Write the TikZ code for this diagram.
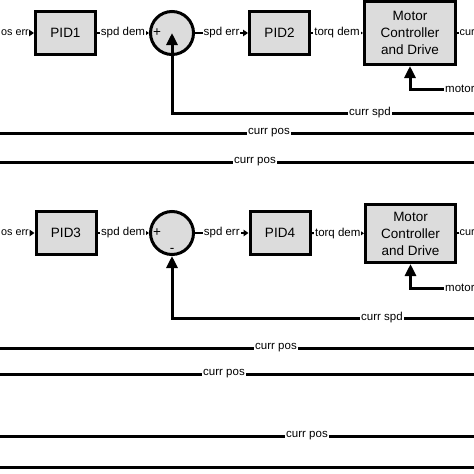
\documentclass[tikz,border=0pt]{standalone}
\usepackage{fontspec}
\setmainfont{Liberation Sans}
\usetikzlibrary{arrows.meta}
\definecolor{blockgray}{RGB}{220,220,220}
\begin{document}
\begin{tikzpicture}[x=1pt,y=-1pt,
  block/.style={draw, line width=3pt, fill=blockgray, inner sep=0pt, align=center,
                font=\fontsize{13.5}{17}\selectfont},
  pidbox/.style={block, minimum width=60pt, minimum height=43pt},
  sumnode/.style={draw, circle, line width=3pt, fill=blockgray, inner sep=0pt, minimum size=43pt},
  sign/.style={inner sep=0pt, font=\fontsize{13.5}{15}\selectfont},
  lbl/.style={fill=white, inner xsep=1pt, inner ysep=0pt, font=\fontsize{11.5}{13}\selectfont},
  edgelbl/.style={fill=white, inner xsep=0.5pt, inner ysep=0pt, font=\fontsize{10.8}{13}\selectfont},
  sig/.style={line width=1.8pt, -{Triangle[length=5pt,width=6.5pt]}},
  fb/.style={line width=3pt},
  fbarrow/.style={line width=3pt, -{Triangle[length=12pt,width=11pt]}},
  bus/.style={line width=3pt}]
\useasboundingbox (0,0) rectangle (474,474);
\clip (0,0) rectangle (474,474);

% ---------- top loop ----------
\node[pidbox] (PID1) at (65.5,33) {PID1};
\node[sumnode] (sum1) at (172,33) {};
\node[sign] (plus1) at (157,33) {+};
\node[pidbox] (PID2) at (279.5,33) {PID2};
\node[block, minimum width=91pt, minimum height=63pt] (MC1) at (410,33) {Motor\\Controller\\and Drive};

\node[edgelbl, anchor=east] (pe1) at (29.5,33) {os err};
\draw[sig] (pe1) -- (PID1);
\draw[sig] (PID1) -- node[lbl] {spd dem} (sum1);
\draw[sig] (sum1) -- node[lbl] {spd err} (PID2);
\draw[sig] (PID2) -- node[lbl] {torq dem} (MC1);
\node[edgelbl, anchor=west] (cu1) at (459,33) {cur};
\draw[line width=1.8pt] (MC1) -- (cu1);

\node[lbl, anchor=west] (mo1) at (444,89) {motor};
\draw[fbarrow] (mo1.west) -| (MC1.south);

\coordinate (fbr1) at (480,113);
\node[lbl] (cs1) at (370,113) {curr spd};
\draw[fb] (fbr1) -- (cs1);
\draw[fbarrow] (cs1) -| (sum1.center);

\coordinate (la1) at (-5,133);
\coordinate (ra1) at (480,133);
\node[lbl] (cp1) at (269,133) {curr pos};
\draw[bus] (la1) -- (cp1) -- (ra1);

\coordinate (la2) at (-5,162);
\coordinate (ra2) at (480,162);
\node[lbl] (cp2) at (255,162) {curr pos};
\draw[bus] (la2) -- (cp2) -- (ra2);

% ---------- bottom loop ----------
\node[pidbox] (PID3) at (66,233) {PID3};
\node[sumnode] (sum2) at (172,233) {};
\node[sign] (plus2) at (157,233) {+};
\node[sign] (minus2) at (172,250) {-};
\node[pidbox] (PID4) at (280,233) {PID4};
\node[block, minimum width=90pt, minimum height=58pt] (MC2) at (410.5,233.5) {Motor\\Controller\\and Drive};

\node[edgelbl, anchor=east] (pe2) at (29.5,233) {os err};
\draw[sig] (pe2) -- (PID3);
\draw[sig] (PID3) -- node[lbl] {spd dem} (sum2);
\draw[sig] (sum2) -- node[lbl] {spd err} (PID4);
\draw[sig] (PID4) -- node[lbl] {torq dem} (MC2);
\node[edgelbl, anchor=west] (cu2) at (459,233) {cur};
\draw[line width=1.8pt] (MC2) -- (cu2);

\node[lbl, anchor=west] (mo2) at (444,288) {motor};
\draw[fbarrow] (mo2.west) -| (MC2.south);

\coordinate (fbr2) at (480,318);
\node[lbl] (cs2) at (382,318) {curr spd};
\draw[fb] (fbr2) -- (cs2);
\draw[fbarrow] (cs2) -| (sum2);

\coordinate (la3) at (-5,348);
\coordinate (ra3) at (480,348);
\node[lbl] (cp3) at (276,348) {curr pos};
\draw[bus] (la3) -- (cp3) -- (ra3);

\coordinate (la4) at (-5,374);
\coordinate (ra4) at (480,374);
\node[lbl] (cp4) at (224,374) {curr pos};
\draw[bus] (la4) -- (cp4) -- (ra4);

\coordinate (la5) at (-5,436);
\coordinate (ra5) at (480,436);
\node[lbl] (cp5) at (307,436) {curr pos};
\draw[bus] (la5) -- (cp5) -- (ra5);

\coordinate (la6) at (-5,467);
\coordinate (ra6) at (480,467);
\draw[bus] (la6) -- (ra6);
\end{tikzpicture}
\end{document}
